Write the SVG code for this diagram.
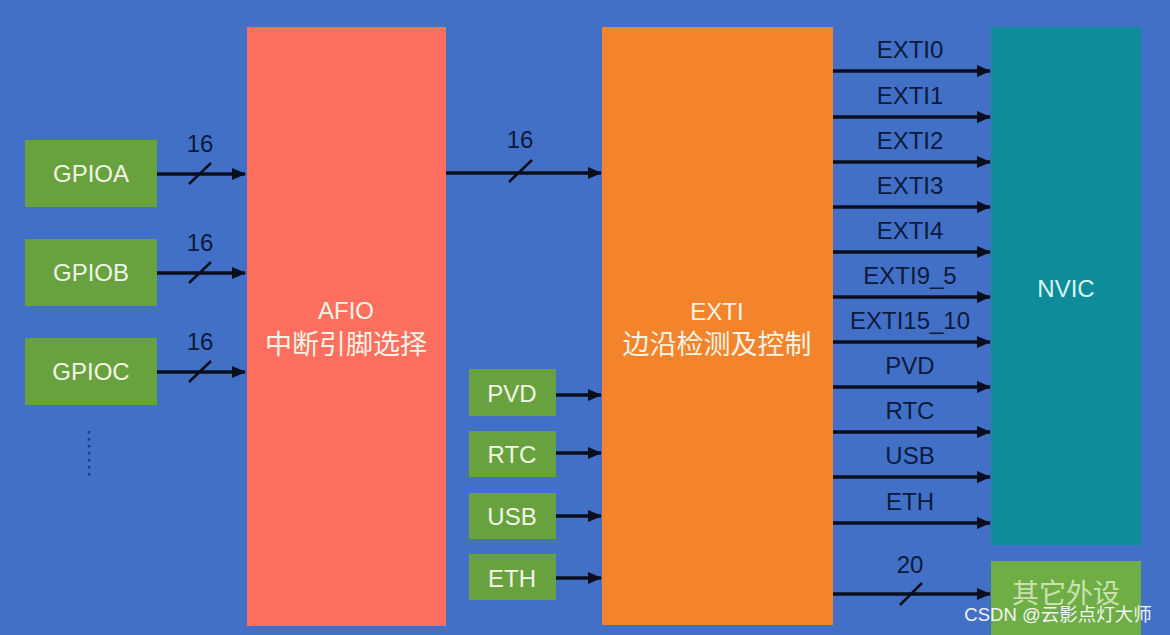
<svg xmlns="http://www.w3.org/2000/svg" width="1170" height="635" viewBox="0 0 1170 635">
<defs>
<marker id="ah" viewBox="0 0 14 12" refX="13" refY="6" markerWidth="14" markerHeight="12" markerUnits="userSpaceOnUse" orient="auto">
<path d="M0,0 L14,6 L0,12 Z" fill="#0a0f1e"/>
</marker>
<style>
.bg{fill:#4170C6}
.g{fill:#68A23E}
.wt{font-family:"Liberation Sans","Noto Sans CJK SC",sans-serif;fill:#F2F4E6;text-anchor:middle}
.dt{font-family:"Liberation Sans","Noto Sans CJK SC",sans-serif;fill:#0C1A3C;text-anchor:middle;font-size:24px}
.ln{stroke:#0a0f1e;stroke-width:3.5;fill:none;marker-end:url(#ah)}
.sl{stroke:#0a0f1e;stroke-width:2.5;fill:none}
</style>
</defs>
<rect class="bg" x="0" y="0" width="1170" height="635"/>

<g id="gpioa"><rect class="g" x="25" y="140" width="132" height="67"/><text class="wt" x="91" y="182" font-size="24">GPIOA</text></g>
<g id="gpiob"><rect class="g" x="25" y="239" width="132" height="67"/><text class="wt" x="91" y="281" font-size="24">GPIOB</text></g>
<g id="gpioc"><rect class="g" x="25" y="338" width="132" height="67"/><text class="wt" x="91" y="380" font-size="24">GPIOC</text></g>
<g id="dots"><line x1="89" y1="431" x2="89" y2="479" stroke="#1a3a8a" stroke-width="2.5" stroke-dasharray="2.5,4.5"/></g>

<g id="afio"><rect x="247" y="27" width="199" height="599" fill="#FE6F5F"/>
<text class="wt" x="346" y="319" font-size="24">AFIO</text>
<text class="wt" x="346" y="354" font-size="27">中断引脚选择</text></g>

<g id="exti"><rect x="602" y="27" width="231" height="598" fill="#F4842C"/>
<text class="wt" x="717" y="320" font-size="24">EXTI</text>
<text class="wt" x="717" y="354" font-size="27">边沿检测及控制</text></g>

<g id="pvd"><rect class="g" x="469" y="369" width="87" height="47"/><text class="wt" x="512" y="402" font-size="24">PVD</text></g>
<g id="rtc"><rect class="g" x="469" y="431" width="87" height="46"/><text class="wt" x="512" y="463" font-size="24">RTC</text></g>
<g id="usb"><rect class="g" x="469" y="493" width="87" height="46"/><text class="wt" x="512" y="525" font-size="24">USB</text></g>
<g id="eth"><rect class="g" x="469" y="554" width="87" height="46"/><text class="wt" x="512" y="587" font-size="24">ETH</text></g>

<g id="nvic"><rect x="991" y="27" width="150" height="518" fill="#0E8C9A"/>
<text class="wt" x="1066" y="297" font-size="24" style="fill:#D8F6F4">NVIC</text></g>

<g id="other"><rect x="991" y="561" width="150" height="80" fill="#6FAE45"/>
<text class="wt" x="1066" y="603" font-size="27" style="fill:#C9E3AE">其它外设</text></g>

<g id="connectors">
<line class="ln" x1="157" y1="174" x2="245" y2="174"/>
<line class="sl" x1="189" y1="184" x2="211" y2="163"/>
<text class="dt" x="200" y="152">16</text>
<line class="ln" x1="157" y1="273" x2="245" y2="273"/>
<line class="sl" x1="189" y1="283" x2="211" y2="262"/>
<text class="dt" x="200" y="251">16</text>
<line class="ln" x1="157" y1="372" x2="245" y2="372"/>
<line class="sl" x1="189" y1="382" x2="211" y2="361"/>
<text class="dt" x="200" y="350">16</text>

<line class="ln" x1="446" y1="173" x2="601" y2="173"/>
<line class="sl" x1="509" y1="182" x2="532" y2="160"/>
<text class="dt" x="520" y="148">16</text>

<line class="ln" x1="556" y1="395" x2="601" y2="395"/>
<line class="ln" x1="556" y1="453" x2="601" y2="453"/>
<line class="ln" x1="556" y1="516" x2="601" y2="516"/>
<line class="ln" x1="556" y1="578" x2="601" y2="578"/>

<line class="ln" x1="833" y1="71" x2="990" y2="71"/>
<text class="dt" x="910" y="58">EXTI0</text>
<line class="ln" x1="833" y1="117" x2="990" y2="117"/>
<text class="dt" x="910" y="104">EXTI1</text>
<line class="ln" x1="833" y1="162" x2="990" y2="162"/>
<text class="dt" x="910" y="149">EXTI2</text>
<line class="ln" x1="833" y1="207" x2="990" y2="207"/>
<text class="dt" x="910" y="194">EXTI3</text>
<line class="ln" x1="833" y1="252" x2="990" y2="252"/>
<text class="dt" x="910" y="239">EXTI4</text>
<line class="ln" x1="833" y1="297" x2="990" y2="297"/>
<text class="dt" x="910" y="284">EXTI9_5</text>
<line class="ln" x1="833" y1="342" x2="990" y2="342"/>
<text class="dt" x="910" y="329">EXTI15_10</text>
<line class="ln" x1="833" y1="387" x2="990" y2="387"/>
<text class="dt" x="910" y="374">PVD</text>
<line class="ln" x1="833" y1="432" x2="990" y2="432"/>
<text class="dt" x="910" y="419">RTC</text>
<line class="ln" x1="833" y1="477" x2="990" y2="477"/>
<text class="dt" x="910" y="464">USB</text>
<line class="ln" x1="833" y1="523" x2="990" y2="523"/>
<text class="dt" x="910" y="510">ETH</text>

<line class="ln" x1="833" y1="594" x2="990" y2="594"/>
<line class="sl" x1="900" y1="605" x2="922" y2="583"/>
<text class="dt" x="910" y="573">20</text>
</g>

<text x="1058" y="621" font-family="'Liberation Sans','Noto Sans CJK SC',sans-serif" font-size="18.5" fill="#F4F4F4" text-anchor="middle">CSDN @云影点灯大师</text>
</svg>
